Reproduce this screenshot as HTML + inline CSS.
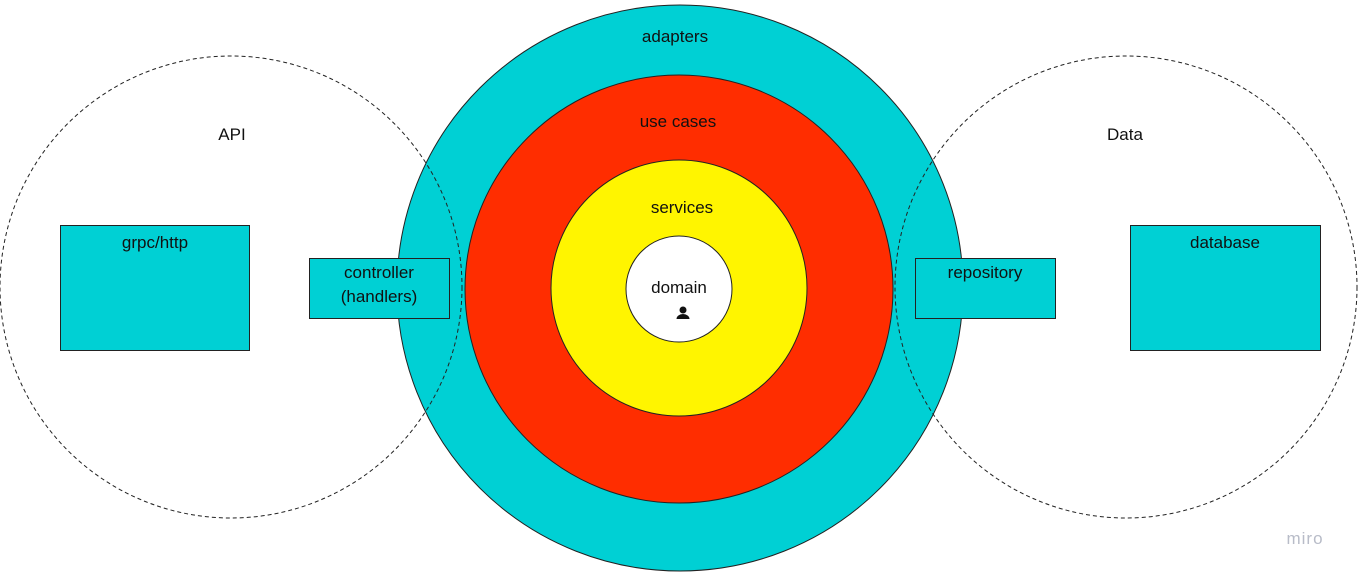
<!DOCTYPE html>
<html><head><meta charset="utf-8"><style>
html,body{margin:0;padding:0;background:#fff;}
svg{display:block;}
text{font-family:"Liberation Sans","DejaVu Sans",sans-serif;font-size:17px;fill:#111;}
</style></head><body>
<svg width="1358" height="576" viewBox="0 0 1358 576" xmlns="http://www.w3.org/2000/svg">
<rect width="1358" height="576" fill="#fff"/>
<circle cx="680" cy="288" r="283" fill="#00d0d4" stroke="#222" stroke-width="1"/>
<circle cx="679" cy="289" r="214" fill="#ff2d00" stroke="#222" stroke-width="1"/>
<circle cx="679" cy="288" r="128" fill="#fff500" stroke="#222" stroke-width="1"/>
<circle cx="679" cy="289" r="53" fill="#fff" stroke="#222" stroke-width="1"/>
<circle cx="231" cy="287" r="231" fill="none" stroke="#222" stroke-width="1" stroke-dasharray="4,3"/>
<circle cx="1126" cy="287" r="231" fill="none" stroke="#222" stroke-width="1" stroke-dasharray="4,3"/>
<rect x="60.5" y="225.5" width="189" height="125" fill="#00d0d4" stroke="#222" stroke-width="1"/>
<rect x="309.5" y="258.5" width="140" height="60" fill="#00d0d4" stroke="#222" stroke-width="1"/>
<rect x="915.5" y="258.5" width="140" height="60" fill="#00d0d4" stroke="#222" stroke-width="1"/>
<rect x="1130.5" y="225.5" width="190" height="125" fill="#00d0d4" stroke="#222" stroke-width="1"/>
<text x="675" y="42" text-anchor="middle">adapters</text>
<text x="678" y="127" text-anchor="middle">use cases</text>
<text x="682" y="213" text-anchor="middle">services</text>
<text x="679" y="293" text-anchor="middle">domain</text>
<circle cx="683" cy="310" r="3.5" fill="#111"/>
<path d="M676.5 319 a6.5 5 0 0 1 13 0 z" fill="#111"/>
<text x="232" y="140" text-anchor="middle">API</text>
<text x="1125" y="140" text-anchor="middle">Data</text>
<text x="155" y="248" text-anchor="middle">grpc/http</text>
<text x="1225" y="248" text-anchor="middle">database</text>
<text x="379" y="278" text-anchor="middle">controller</text>
<text x="379" y="302" text-anchor="middle">(handlers)</text>
<text x="985" y="278" text-anchor="middle">repository</text>
<text x="1305" y="544" text-anchor="middle" style="fill:#b8bcc8;font-size:17px;letter-spacing:1px">miro</text>
</svg>
</body></html>
